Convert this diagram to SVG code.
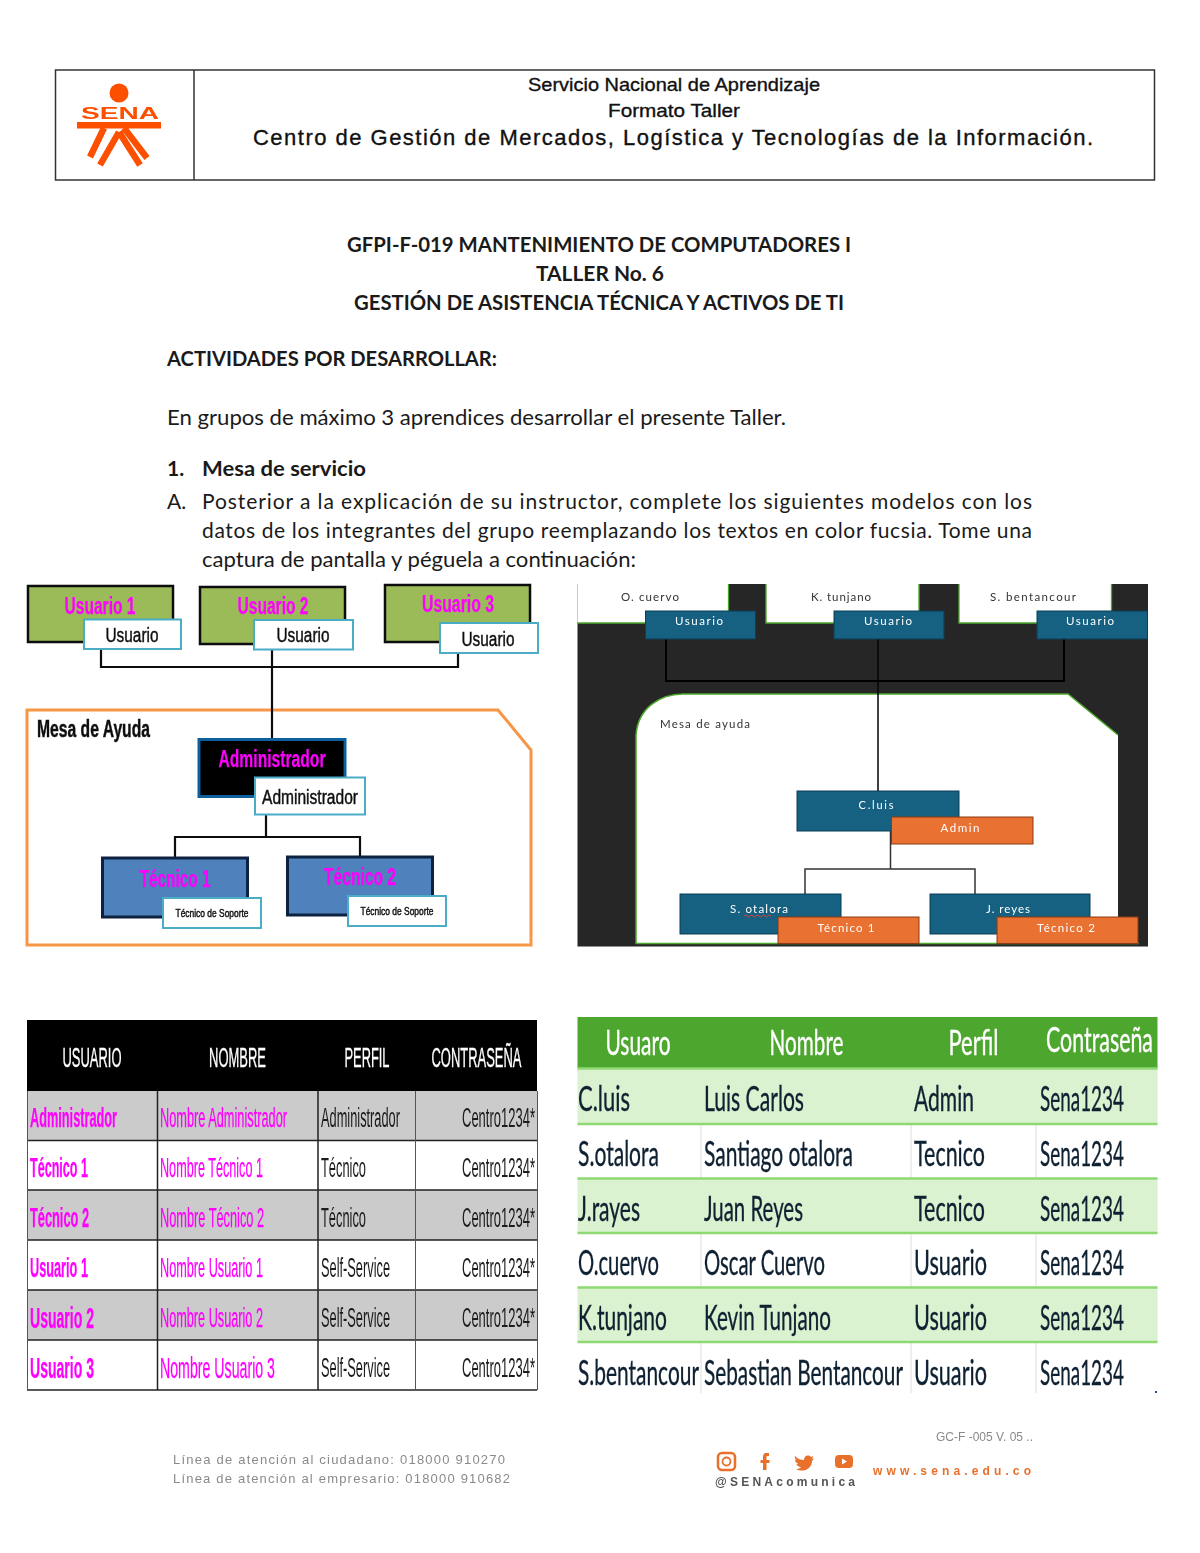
<svg xmlns="http://www.w3.org/2000/svg" width="1200" height="1553" viewBox="0 0 1200 1553">
<style>
text{font-family:"Lato","Open Sans","Liberation Sans",sans-serif;fill:#1a1a1a}
.b{font-weight:700}
.body{font-size:21px}
.hd{font-family:"Liberation Sans",Arial,sans-serif;font-size:19px;fill:#111;stroke:#111;stroke-width:.35}
.ar{font-family:"Liberation Sans",Arial,sans-serif}
.rt{font-size:34px;fill:#102030;stroke:#102030;stroke-width:.35}
.lt{font-family:"Liberation Sans",Arial,sans-serif;font-size:27px}
.f{font-family:"Liberation Sans",Arial,sans-serif;fill:#8a8a8a;font-size:13px}
.m{fill:#ff00ff;stroke:#ff00ff;stroke-width:.25}
.w{fill:#fff;stroke:#fff;stroke-width:.35}
.k{fill:#111;stroke:#111;stroke-width:.45}
.thin{stroke-width:0}
.mid{text-anchor:middle}
.cap{fill:#fff;stroke:#4bacc6;stroke-width:2}
.ol{fill:#9bbb59;stroke:#111;stroke-width:2.5}
.bl{fill:#4f81bd;stroke:#10233f;stroke-width:3}
.n{fill:#156082;stroke:#0f3f55;stroke-width:1}
.o{fill:#e97132;stroke:#8a3a12;stroke-width:1}
.cl{fill:none;stroke:#111;stroke-width:2.2}
</style>
<defs>
<filter id="softer" x="-5%" y="-5%" width="110%" height="110%"><feGaussianBlur stdDeviation="0.45"/></filter>
</defs>
<rect width="1200" height="1553" fill="#fff"/>

<g id="header">
<rect x="55.5" y="70" width="1099" height="110" fill="#fff" stroke="#333" stroke-width="1.5"/>
<line x1="194" y1="70" x2="194" y2="180" stroke="#333" stroke-width="1.5"/>
<g id="logo" filter="url(#softer)">
<circle cx="119" cy="93" r="9.5" fill="#fc5000"/>
<text x="120" y="119" text-anchor="middle" textLength="78" lengthAdjust="spacingAndGlyphs" style="font-family:'Liberation Sans',sans-serif;font-weight:700;font-size:17px;fill:#fc5000">SENA</text>
<rect x="77" y="122" width="84" height="6.5" fill="#fc5000"/>
<path d="M104 128L90 157M119 132L100 165M119 132L140 165M124 128L147 158" fill="none" stroke="#fc5000" stroke-width="6.5"/>
</g>
<text class="hd mid" x="674" y="91" textLength="292" lengthAdjust="spacingAndGlyphs">Servicio Nacional de Aprendizaje</text>
<text class="hd mid" x="674" y="117" textLength="132" lengthAdjust="spacingAndGlyphs">Formato Taller</text>
<text class="hd mid" x="673" y="145" style="font-size:22px" textLength="840">Centro de Gestión de Mercados, Logística y Tecnologías de la Información.</text>
</g>

<g id="body-text">
<text class="body b mid" x="599" y="252" textLength="504" lengthAdjust="spacingAndGlyphs">GFPI-F-019 MANTENIMIENTO DE COMPUTADORES I</text>
<text class="body b mid" x="600" y="281" textLength="128" lengthAdjust="spacingAndGlyphs">TALLER No. 6</text>
<text class="body b mid" x="599" y="310" textLength="490" lengthAdjust="spacingAndGlyphs">GESTIÓN DE ASISTENCIA TÉCNICA Y ACTIVOS DE TI</text>
<text class="body b" x="167" y="366" textLength="330" lengthAdjust="spacingAndGlyphs">ACTIVIDADES POR DESARROLLAR:</text>
<text class="body" x="167" y="425" textLength="619" lengthAdjust="spacingAndGlyphs">En grupos de máximo 3 aprendices desarrollar el presente Taller.</text>
<text class="body b" x="167" y="476">1.</text>
<text class="body b" x="202" y="476" textLength="164" lengthAdjust="spacingAndGlyphs">Mesa de servicio</text>
<text class="body" x="167" y="509">A.</text>
<text class="body" x="202" y="509" textLength="830">Posterior a la explicación de su instructor, complete los siguientes modelos con los</text>
<text class="body" x="202" y="538" textLength="830">datos de los integrantes del grupo reemplazando los textos en color fucsia. Tome una</text>
<text class="body" x="202" y="567" textLength="434" lengthAdjust="spacingAndGlyphs">captura de pantalla y péguela a continuación:</text>
</g>

<g id="left-org" filter="url(#softer)">
<path id="mesa-frame" d="M27 710H498L531 750V945H27Z" fill="#fff" stroke="#f79646" stroke-width="3"/>
<text class="ar b k" x="37" y="737" style="font-size:23px" textLength="113" lengthAdjust="spacingAndGlyphs">Mesa de Ayuda</text>
<g id="left-connectors">
<path class="cl" d="M101 645V667H458V650"/>
<path class="cl" d="M272 650V740"/>
<path class="cl" d="M266 812V837M175 858V837H360V858"/>
</g>
<g id="usuario1"><rect class="ol" x="28" y="586" width="145" height="56"/><text class="ar b m mid" x="100" y="614" style="font-size:23px" textLength="71" lengthAdjust="spacingAndGlyphs">Usuario 1</text><rect class="cap" x="84" y="619.5" width="97" height="29.5"/><text class="ar k mid" x="132" y="642" style="font-size:20px" textLength="53" lengthAdjust="spacingAndGlyphs">Usuario</text></g>
<g id="usuario2"><rect class="ol" x="200" y="587" width="145" height="57"/><text class="ar b m mid" x="273" y="614" style="font-size:23px" textLength="71" lengthAdjust="spacingAndGlyphs">Usuario 2</text><rect class="cap" x="254" y="620" width="99" height="29.5"/><text class="ar k mid" x="303" y="642" style="font-size:20px" textLength="53" lengthAdjust="spacingAndGlyphs">Usuario</text></g>
<g id="usuario3"><rect class="ol" x="385" y="585" width="145" height="57"/><text class="ar b m mid" x="458" y="612" style="font-size:23px" textLength="72" lengthAdjust="spacingAndGlyphs">Usuario 3</text><rect class="cap" x="440" y="623" width="98" height="30"/><text class="ar k mid" x="488" y="646" style="font-size:20px" textLength="53" lengthAdjust="spacingAndGlyphs">Usuario</text></g>
<g id="admin"><rect x="199" y="739.5" width="146" height="57" fill="#000" stroke="#0b5f9e" stroke-width="3"/><text class="ar b m mid" x="272" y="767" style="font-size:23px" textLength="107" lengthAdjust="spacingAndGlyphs">Administrador</text><rect class="cap" x="255" y="777.5" width="110" height="37"/><text class="ar k mid" x="310" y="804" style="font-size:20px" textLength="96" lengthAdjust="spacingAndGlyphs">Administrador</text></g>
<g id="tecnico1"><rect class="bl" x="102.500" y="858" width="145" height="59"/><text class="ar b m mid" x="175" y="887" style="font-size:23px" textLength="71" lengthAdjust="spacingAndGlyphs">Técnico 1</text><rect class="cap" x="163" y="898" width="98" height="30"/><text class="ar k mid" x="212" y="917" style="font-size:11px" textLength="73" lengthAdjust="spacingAndGlyphs">Técnico de Soporte</text></g>
<g id="tecnico2"><rect class="bl" x="287.500" y="857" width="145" height="58"/><text class="ar b m mid" x="360" y="885" style="font-size:23px" textLength="72" lengthAdjust="spacingAndGlyphs">Técnico 2</text><rect class="cap" x="348" y="896" width="98" height="30"/><text class="ar k mid" x="397" y="915" style="font-size:11px" textLength="73" lengthAdjust="spacingAndGlyphs">Técnico de Soporte</text></g>
</g>

<g id="right-org" filter="url(#softer)">
<rect x="577.500" y="584" width="570.500" height="362.500" fill="#262626"/>
<path d="M577.500 584H728.500V623H577.500ZM766 584H919V623H766ZM959 584H1111.500V623H959Z" fill="#fff"/>
<path d="M577.500 623H728.500V584M766 584V623H919V584M959 584V623H1111.500V584" fill="none" stroke="#4ea72e" stroke-width="1.300"/>
<path id="panel" d="M636 944V735C638 708 660 694 683 694H1068L1118 735V944Z" fill="#fff"/>
<path d="M636 944V735C638 708 660 694 683 694H1068L1118 735" fill="none" stroke="#4ea72e" stroke-width="1.500"/>
<path d="M636 943.500H1139" fill="none" stroke="#4ea72e" stroke-width="1.500"/>
<text x="650" y="601" class="mid" style="font-size:11.500px;fill:#333" textLength="58">O. cuervo</text>
<text x="841" y="601" class="mid" style="font-size:11.500px;fill:#333" textLength="60">K. tunjano</text>
<text x="1033" y="601" class="mid" style="font-size:11.500px;fill:#333" textLength="86">S. bentancour</text>
<text x="660" y="728" style="font-size:11.500px;fill:#333" textLength="90">Mesa de ayuda</text>
<g id="right-connectors">
<path d="M666 639V681H1064V639" fill="none" stroke="#000" stroke-width="2"/>
<path d="M878 639V791" fill="none" stroke="#000" stroke-width="1.500"/>
<path d="M890.500 831V869M805 894V869H975V894" fill="none" stroke="#333" stroke-width="1.500"/>
</g>
<g id="r-usuario1"><rect class="n" x="645.500" y="611" width="110" height="28"/><text class="w thin mid" x="699" y="625" style="font-size:11.500px" textLength="48">Usuario</text></g>
<g id="r-usuario2"><rect class="n" x="834" y="611" width="110" height="28"/><text class="w thin mid" x="888" y="625" style="font-size:11.500px" textLength="48">Usuario</text></g>
<g id="r-usuario3"><rect class="n" x="1037" y="611" width="110.500" height="28"/><text class="w thin mid" x="1090" y="625" style="font-size:11.500px" textLength="48">Usuario</text></g>
<g id="r-admin"><rect class="n" x="797" y="791" width="162" height="40"/><text class="w thin mid" x="876" y="809" style="font-size:11px" textLength="35">C.luis</text><rect class="o" x="891.500" y="817" width="141.500" height="27"/><text class="w thin mid" x="960" y="832" style="font-size:11.500px" textLength="39">Admin</text></g>
<g id="r-tecnico1"><rect class="n" x="680" y="894" width="161" height="40"/><text class="w thin mid" x="759" y="913" style="font-size:11.500px" textLength="58">S. otalora</text><path d="M744 916q1.500-2 3 0t3 0 3 0 3 0 3 0 3 0 3 0 3 0 3 0" fill="none" stroke="#e04040" stroke-width="1"/><rect class="o" x="778" y="917" width="141" height="26.500"/><text class="w thin mid" x="846" y="932" style="font-size:11.500px" textLength="57">Técnico 1</text></g>
<g id="r-tecnico2"><rect class="n" x="930" y="894" width="160" height="40"/><text class="w thin mid" x="1008" y="913" style="font-size:11.500px" textLength="44">J. reyes</text><rect class="o" x="997" y="917" width="141" height="26.500"/><text class="w thin mid" x="1066" y="932" style="font-size:11.500px" textLength="58">Técnico 2</text></g>
</g>

<g id="left-table" filter="url(#softer)">
<rect x="27" y="1020" width="510" height="71" fill="#000"/>
<rect x="27" y="1091" width="510" height="49.500" fill="#cbcbcb"/>
<rect x="27" y="1190" width="510" height="50" fill="#cbcbcb"/>
<rect x="27" y="1290" width="510" height="50" fill="#cbcbcb"/>
<path d="M27 1140.500H537M27 1190H537M27 1240H537M27 1290H537M27 1340H537M27 1390H537M157.500 1091V1390M318 1091V1390" stroke="#222" stroke-width="1.500" fill="none"/>
<path d="M415.500 1091V1390M537.500 1091V1390M27.500 1091V1390" stroke="#555" stroke-width="1" fill="none"/>
<g>
<text class="lt w mid" x="92" y="1067" textLength="59" lengthAdjust="spacingAndGlyphs">USUARIO</text>
<text class="lt w mid" x="237.500" y="1067" textLength="57" lengthAdjust="spacingAndGlyphs">NOMBRE</text>
<text class="lt w mid" x="367" y="1067" textLength="45" lengthAdjust="spacingAndGlyphs">PERFIL</text>
<text class="lt w mid" x="476.500" y="1067" textLength="90" lengthAdjust="spacingAndGlyphs">CONTRASEÑA</text>
<text class="lt m b" x="30" y="1127" textLength="87" lengthAdjust="spacingAndGlyphs">Administrador</text>
<text class="lt m" x="160" y="1127" textLength="127" lengthAdjust="spacingAndGlyphs">Nombre Administrador</text>
<text class="lt" x="321" y="1127" textLength="79" lengthAdjust="spacingAndGlyphs">Administrador</text>
<text class="lt" x="462" y="1127" textLength="73" lengthAdjust="spacingAndGlyphs">Centro1234*</text>
<text class="lt m b" x="30" y="1177" textLength="58" lengthAdjust="spacingAndGlyphs">Técnico 1</text>
<text class="lt m" x="160" y="1177" textLength="103" lengthAdjust="spacingAndGlyphs">Nombre Técnico 1</text>
<text class="lt" x="321" y="1177" textLength="45" lengthAdjust="spacingAndGlyphs">Técnico</text>
<text class="lt" x="462" y="1177" textLength="73" lengthAdjust="spacingAndGlyphs">Centro1234*</text>
<text class="lt m b" x="30" y="1227" textLength="59" lengthAdjust="spacingAndGlyphs">Técnico 2</text>
<text class="lt m" x="160" y="1227" textLength="104" lengthAdjust="spacingAndGlyphs">Nombre Técnico 2</text>
<text class="lt" x="321" y="1227" textLength="45" lengthAdjust="spacingAndGlyphs">Técnico</text>
<text class="lt" x="462" y="1227" textLength="73" lengthAdjust="spacingAndGlyphs">Centro1234*</text>
<text class="lt m b" x="30" y="1277" textLength="58" lengthAdjust="spacingAndGlyphs">Usuario 1</text>
<text class="lt m" x="160" y="1277" textLength="103" lengthAdjust="spacingAndGlyphs">Nombre Usuario 1</text>
<text class="lt" x="321" y="1277" textLength="69" lengthAdjust="spacingAndGlyphs">Self-Service</text>
<text class="lt" x="462" y="1277" textLength="73" lengthAdjust="spacingAndGlyphs">Centro1234*</text>
<text class="lt m b" style="font-size:29px" x="30" y="1328" textLength="64" lengthAdjust="spacingAndGlyphs">Usuario 2</text>
<text class="lt m" x="160" y="1327" textLength="103" lengthAdjust="spacingAndGlyphs">Nombre Usuario 2</text>
<text class="lt" x="321" y="1327" textLength="69" lengthAdjust="spacingAndGlyphs">Self-Service</text>
<text class="lt" x="462" y="1327" textLength="73" lengthAdjust="spacingAndGlyphs">Centro1234*</text>
<text class="lt m b" style="font-size:29px" x="30" y="1378" textLength="64" lengthAdjust="spacingAndGlyphs">Usuario 3</text>
<text class="lt m" style="font-size:29px" x="160" y="1378" textLength="115" lengthAdjust="spacingAndGlyphs">Nombre Usuario 3</text>
<text class="lt" x="321" y="1377" textLength="69" lengthAdjust="spacingAndGlyphs">Self-Service</text>
<text class="lt" x="462" y="1377" textLength="73" lengthAdjust="spacingAndGlyphs">Centro1234*</text>
</g>
</g>

<g id="right-table" filter="url(#softer)">
<rect x="577.500" y="1017" width="580" height="51" fill="#4ea72e"/>
<rect x="577.500" y="1068" width="580" height="56" fill="#daf2d0"/>
<rect x="577.500" y="1178" width="580" height="55" fill="#daf2d0"/>
<rect x="577.500" y="1287" width="580" height="55" fill="#daf2d0"/>
<path d="M701 1124V1178M911 1124V1178M1036 1124V1178M701 1233V1287M911 1233V1287M1036 1233V1287M701 1342V1393M911 1342V1393M1036 1342V1393" stroke="#ddd" stroke-width="1" fill="none"/>
<path d="M577.500 1068.500H1157.500M577.500 1124H1157.500M577.500 1178.500H1157.500M577.500 1233H1157.500M577.500 1287.500H1157.500M577.500 1342H1157.500" stroke="#8ed973" stroke-width="2.500" fill="none"/>
<text class="rt w mid" x="638" y="1055" textLength="65" lengthAdjust="spacingAndGlyphs">Usuaro</text>
<text class="rt w mid" x="806.500" y="1055" textLength="74" lengthAdjust="spacingAndGlyphs">Nombre</text>
<text class="rt w mid" x="973.500" y="1055" textLength="50" lengthAdjust="spacingAndGlyphs">Perfil</text>
<text class="rt w mid" x="1099.500" y="1052" textLength="107" lengthAdjust="spacingAndGlyphs">Contraseña</text>
<text class="rt" x="578" y="1111" textLength="52" lengthAdjust="spacingAndGlyphs">C.luis</text>
<text class="rt" x="704" y="1111" textLength="100" lengthAdjust="spacingAndGlyphs">Luis Carlos</text>
<text class="rt" x="914" y="1111" textLength="60" lengthAdjust="spacingAndGlyphs">Admin</text>
<text class="rt" x="1040" y="1111" textLength="84" lengthAdjust="spacingAndGlyphs">Sena1234</text>
<text class="rt" x="578" y="1166" textLength="81" lengthAdjust="spacingAndGlyphs">S.otalora</text>
<text class="rt" x="704" y="1166" textLength="149" lengthAdjust="spacingAndGlyphs">Santiago otalora</text>
<text class="rt" x="914" y="1166" textLength="71" lengthAdjust="spacingAndGlyphs">Tecnico</text>
<text class="rt" x="1040" y="1166" textLength="84" lengthAdjust="spacingAndGlyphs">Sena1234</text>
<text class="rt" x="578" y="1221" textLength="62" lengthAdjust="spacingAndGlyphs">J.rayes</text>
<text class="rt" x="704" y="1221" textLength="99" lengthAdjust="spacingAndGlyphs">Juan Reyes</text>
<text class="rt" x="914" y="1221" textLength="71" lengthAdjust="spacingAndGlyphs">Tecnico</text>
<text class="rt" x="1040" y="1221" textLength="84" lengthAdjust="spacingAndGlyphs">Sena1234</text>
<text class="rt" x="578" y="1275" textLength="81" lengthAdjust="spacingAndGlyphs">O.cuervo</text>
<text class="rt" x="704" y="1275" textLength="121" lengthAdjust="spacingAndGlyphs">Oscar Cuervo</text>
<text class="rt" x="914" y="1275" textLength="73" lengthAdjust="spacingAndGlyphs">Usuario</text>
<text class="rt" x="1040" y="1275" textLength="84" lengthAdjust="spacingAndGlyphs">Sena1234</text>
<text class="rt" x="578" y="1330" textLength="89" lengthAdjust="spacingAndGlyphs">K.tunjano</text>
<text class="rt" x="704" y="1330" textLength="127" lengthAdjust="spacingAndGlyphs">Kevin Tunjano</text>
<text class="rt" x="914" y="1330" textLength="73" lengthAdjust="spacingAndGlyphs">Usuario</text>
<text class="rt" x="1040" y="1330" textLength="84" lengthAdjust="spacingAndGlyphs">Sena1234</text>
<text class="rt" x="578" y="1385" textLength="121" lengthAdjust="spacingAndGlyphs">S.bentancour</text>
<text class="rt" x="704" y="1385" textLength="199" lengthAdjust="spacingAndGlyphs">Sebastian Bentancour</text>
<text class="rt" x="914" y="1385" textLength="73" lengthAdjust="spacingAndGlyphs">Usuario</text>
<text class="rt" x="1040" y="1385" textLength="84" lengthAdjust="spacingAndGlyphs">Sena1234</text>
<rect x="1155" y="1391" width="2" height="2" fill="#2050a0"/>
</g>

<g id="footer" filter="url(#softer)">
<text class="f" x="173" y="1464" textLength="332">Línea de atención al ciudadano: 018000 910270</text>
<text class="f" x="173" y="1483" textLength="337">Línea de atención al empresario: 018000 910682</text>
<text class="f" x="936" y="1441" textLength="97" lengthAdjust="spacingAndGlyphs">GC-F -005 V. 05 ..</text>
<g id="social">
<rect x="718" y="1453" width="17" height="17" rx="4" fill="none" stroke="#e8702a" stroke-width="2.500"/>
<circle cx="726.500" cy="1461.500" r="4" fill="none" stroke="#e8702a" stroke-width="1.800"/>
<path d="M769 1453h-3c-2 0-3 1.500-3 4v3h-2.500v3h2.500v7h3.500v-7h3v-3h-3v-3c0-.7.5-1 1-1h1.500z" fill="#e8702a"/>
<path d="M795 1456c3 3 6 4 9 4 0-4 4-6 7-3l2.500-1-1.500 3 2-.5-2 2.500c0 8-9 12-16 8 2 0 4-.5 5-2-2 0-4-1-4.500-3h2c-2-.5-3.500-2.500-3.500-4.500l2 .5c-2-1-2.500-2.500-2-4.500z" fill="#e8702a"/>
<rect x="835" y="1455" width="18" height="13" rx="4" fill="#e8702a"/>
<path d="M842 1458.500v6l5-3z" fill="#fff"/>
</g>
<text class="f b" x="715" y="1486" style="font-size:12px;fill:#555" textLength="140">@SENAcomunica</text>
<text class="f b" x="873" y="1475" style="font-size:12px;fill:#e8702a" textLength="158">www.sena.edu.co</text>
</g>
</svg>
